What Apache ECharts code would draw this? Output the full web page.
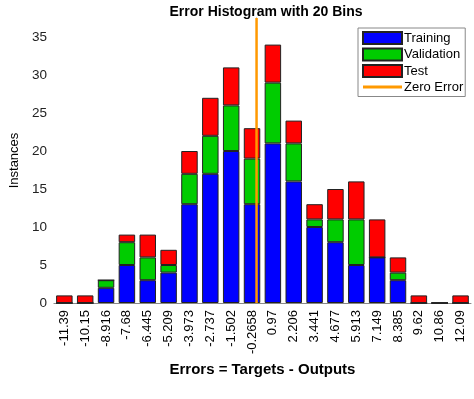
<!DOCTYPE html>
<html>
<head>
<meta charset="utf-8">
<script src="https://cdn.jsdelivr.net/npm/echarts@6/dist/echarts.min.js"></script>
<style>
  html, body { margin: 0; padding: 0; background: #fff; }
  #chart { width: 474px; height: 399px; }
</style>
</head>
<body>
<div id="chart"></div>
<script>
// bin centres (tick labels)
const binLabels = ['-11.39', '-10.15', '-8.916', '-7.68', '-6.445', '-5.209', '-3.973', '-2.737', '-1.502', '-0.2658',
  '0.97', '2.206', '3.441', '4.677', '5.913', '7.149', '8.385', '9.62', '10.86', '12.09']
const binCentres = binLabels.map(Number)

// counts per bin, stacked
const training   = [0, 0, 2, 5, 3, 4, 13, 17, 20, 13, 21, 16, 10, 8, 5, 6, 3, 0, 0, 0]
const validation = [0, 0, 1, 3, 3, 1, 4, 5, 6, 6, 8, 5, 1, 3, 6, 0, 1, 0, 0, 0]
const test       = [1, 1, 0, 1, 3, 2, 3, 5, 5, 4, 5, 3, 2, 4, 5, 5, 2, 1, 0, 1]

const zeroError = 0
const yMax = 37.5

const colors = ['#0000ff', '#00cc00', '#ff0000', '#ff9900']

const chart = echarts.init(document.getElementById('chart'))

const binWidth = (binCentres[binCentres.length - 1] - binCentres[0]) / (binCentres.length - 1)
const xMin = binCentres[0] - binWidth / 2
const xMax = binCentres[binCentres.length - 1] + binWidth / 2

const barSeries = (name, data, color) => ({
  name: name,
  type: 'bar',
  stack: 'err',
  data: data,
  barCategoryGap: '21%',
  itemStyle: { color: color, borderColor: '#222', borderWidth: 1 },
  emphasis: { disabled: true }
})

// thin horizontal bar, the two tiny segments only stretch the box to the full icon size
const lineIcon = 'path://M0,0 L0.01,0 M0,4.5 L39,4.5 L39,7.5 L0,7.5 Z M0,12 L0.01,12'

const option = {
  animation: false,
  textStyle: { fontFamily: 'Liberation Sans, Arial, sans-serif' },
  title: {
    text: 'Error Histogram with 20 Bins',
    left: 261,
    textAlign: 'center',
    top: 0,
    textStyle: { fontSize: 14, fontWeight: 'bold', color: '#000' }
  },
  legend: {
    orient: 'vertical',
    left: 358,
    top: 28,
    padding: [3, 2, 3, 4],
    itemWidth: 39,
    itemHeight: 12,
    itemGap: 2.5,
    borderColor: '#888',
    borderWidth: 1,
    backgroundColor: '#fff',
    textStyle: { fontSize: 13, color: '#000', padding: [0, 0, 0, -3] },
    data: [
      { name: 'Training', icon: 'rect' },
      { name: 'Validation', icon: 'rect' },
      { name: 'Test', icon: 'rect' },
      { name: 'Zero Error', icon: lineIcon, itemStyle: { color: colors[3], borderWidth: 0 } }
    ]
  },
  grid: { left: 49, right: 3, top: 18, bottom: 96 },
  xAxis: [
    {
      type: 'category',
      data: binLabels,
      name: 'Errors = Targets - Outputs',
      nameLocation: 'middle',
      nameGap: 59,
      nameTextStyle: { fontSize: 15, fontWeight: 'bold', color: '#000' },
      axisLine: { lineStyle: { color: '#888' } },
      axisTick: { show: false },
      axisLabel: { rotate: 90, fontSize: 13, color: '#000', margin: 7, interval: 0 }
    },
    {
      type: 'value',
      min: xMin,
      max: xMax,
      show: false
    }
  ],
  yAxis: {
    type: 'value',
    min: 0,
    max: yMax,
    interval: 5,
    offset: 1,
    name: 'Instances',
    nameLocation: 'middle',
    nameGap: 28,
    nameTextStyle: { fontSize: 13, color: '#000' },
    axisLine: { show: true, lineStyle: { color: '#888' } },
    axisTick: { show: false },
    splitLine: { show: false },
    axisLabel: { fontSize: 13.5, color: '#222', showMaxLabel: false, margin: 6 }
  },
  series: [
    barSeries('Training', training, colors[0]),
    barSeries('Validation', validation, colors[1]),
    barSeries('Test', test, colors[2]),
    {
      name: 'Zero Error',
      type: 'line',
      xAxisIndex: 1,
      symbol: 'none',
      data: [[zeroError, 0], [zeroError, yMax]],
      lineStyle: { color: colors[3], width: 2.5 },
      itemStyle: { color: colors[3] },
      z: 5
    }
  ]
}

chart.setOption(option)
</script>
</body>
</html>
